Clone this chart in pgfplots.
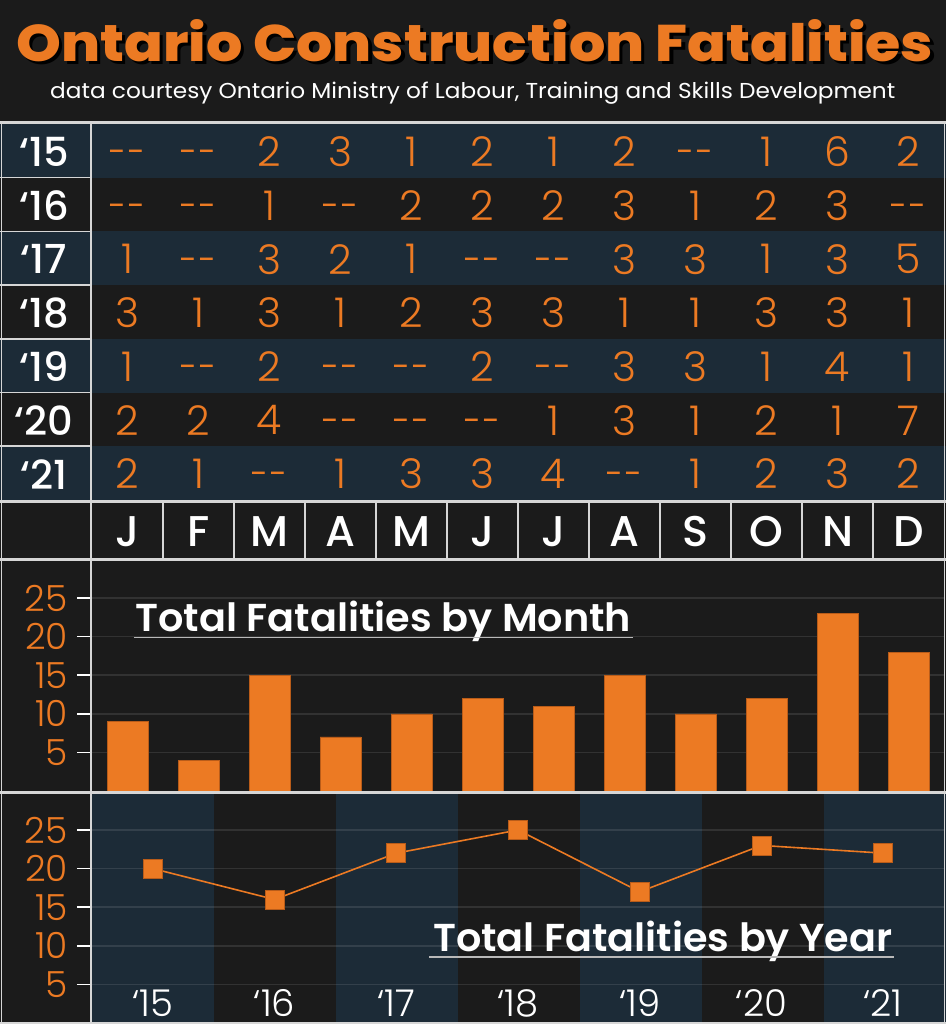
\documentclass[border=0pt]{standalone}
\usepackage{fontspec}
\usepackage{graphicx}
\usepackage{pgfplots}
\pgfplotsset{compat=1.18}
\setmainfont{Poppins}
\IfFontExistsTF{Poppins Light}{\newfontfamily\lightfont{Poppins Light}}{\newfontfamily\lightfont{Poppins}}
\IfFontExistsTF{Poppins Medium}{\newfontfamily\mediumfont{Poppins Medium}}{\newfontfamily\mediumfont{Poppins}}
\IfFontExistsTF{Poppins SemiBold}{\newfontfamily\semifont{Poppins SemiBold}}{\newcommand\semifont{\bfseries}}
\IfFontExistsTF{Poppins ExtraBold}{\newfontfamily\heavyfont{Poppins ExtraBold}}{\newcommand\heavyfont{\bfseries}}

\definecolor{bg}{RGB}{27,27,27}
\definecolor{band}{RGB}{28,43,55}
\definecolor{org}{RGB}{236,122,35}
\definecolor{orgdark}{RGB}{185,92,25}
\definecolor{rule}{RGB}{214,214,214}
\definecolor{uline}{RGB}{185,185,185}

% a month with no fatalities (boxed to digit height so it sits mid-row)
\newcommand\dd{\vphantom{0}\scalebox{0.8}[1]{-}\kern2pt\scalebox{0.8}[1]{-}}

\pgfplotsset{
  panel/.style={anchor=north west, scale only axis, width=852pt,
    /pgf/number format/assume math mode=true},
  countticks/.style={
    ytick={5,10,...,25}, ytick pos=left, tick align=outside, major tick length=15pt,
    ytick style={draw=white, line width=1.5pt},
    yticklabel style={anchor=east, inner sep=0pt, xshift=-9pt, text=org,
      font=\lightfont\fontsize{36}{36}\selectfont},
    axis line style={draw=none}, xtick style={draw=none},
    ymajorgrids, grid style={white, opacity=0.1, line width=1.5pt}},
}

\begin{document}
\begin{tikzpicture}[x=1pt,y=-1pt]
\useasboundingbox (0,0) rectangle (946,1024);
% page background
\fill[bg] (0,0) rectangle (946,1024);

% heading with drop shadow
\node[anchor=base west, inner sep=0pt, text=black] at (19.5,65)
  {\resizebox{917pt}{42pt}{\heavyfont Ontario Construction Fatalities}};
\node[anchor=base west, inner sep=0pt, text=org] at (16,61.7)
  {\resizebox{917pt}{42pt}{\heavyfont Ontario Construction Fatalities}};
\node[anchor=base west, inner sep=0pt, text=white] at (50,99)
  {\resizebox{845pt}{16.5pt}{data courtesy Ontario Ministry of Labour, Training and Skills Development}};

% alternating row stripes of the monthly table
\foreach \i in {0,...,6} {
  \pgfmathsetmacro\ya{124+53.7*\i}
  \pgfmathsetmacro\yb{\ya+53.7}
  \ifodd\i \def\c{bg}\else\def\c{band}\fi
  \fill[\c] (0,\ya) rectangle (946,\yb);
}
% year names in the left column
\foreach \t [count=\i from 0] in {15,...,21}
  \node[text=white, inner sep=0pt, font=\mediumfont\fontsize{40}{40}\selectfont]
    at (44,{124+53.7*\i+28}) {‘\t};

% alternating year bands behind the yearly totals
\foreach \i in {0,2,4,6}
  \fill[band] ({92+122*\i},793) rectangle ({min(92+122*\i+122,946)},1024);

% ---- monthly counts per year ----
\begin{axis}[panel, at={(92pt,-124pt)}, height=375.9pt,
  xmin=-0.5, xmax=11.5, ymin=-0.5, ymax=6.5, y dir=reverse,
  hide axis, clip=false,
  point meta=explicit symbolic, nodes near coords,
  every node near coord/.append style={anchor=center, inner sep=0pt, yshift=-1pt,
    text=org, font=\lightfont\fontsize{41}{41}\selectfont}]
\addplot[draw=none] coordinates {(0,0)[\dd] (1,0)[\dd] (2,0)[2] (3,0)[3] (4,0)[1] (5,0)[2] (6,0)[1] (7,0)[2] (8,0)[\dd] (9,0)[1] (10,0)[6] (11,0)[2]};
\addplot[draw=none] coordinates {(0,1)[\dd] (1,1)[\dd] (2,1)[1] (3,1)[\dd] (4,1)[2] (5,1)[2] (6,1)[2] (7,1)[3] (8,1)[1] (9,1)[2] (10,1)[3] (11,1)[\dd]};
\addplot[draw=none] coordinates {(0,2)[1] (1,2)[\dd] (2,2)[3] (3,2)[2] (4,2)[1] (5,2)[\dd] (6,2)[\dd] (7,2)[3] (8,2)[3] (9,2)[1] (10,2)[3] (11,2)[5]};
\addplot[draw=none] coordinates {(0,3)[3] (1,3)[1] (2,3)[3] (3,3)[1] (4,3)[2] (5,3)[3] (6,3)[3] (7,3)[1] (8,3)[1] (9,3)[3] (10,3)[3] (11,3)[1]};
\addplot[draw=none] coordinates {(0,4)[1] (1,4)[\dd] (2,4)[2] (3,4)[\dd] (4,4)[\dd] (5,4)[2] (6,4)[\dd] (7,4)[3] (8,4)[3] (9,4)[1] (10,4)[4] (11,4)[1]};
\addplot[draw=none] coordinates {(0,5)[2] (1,5)[2] (2,5)[4] (3,5)[\dd] (4,5)[\dd] (5,5)[\dd] (6,5)[1] (7,5)[3] (8,5)[1] (9,5)[2] (10,5)[1] (11,5)[7]};
\addplot[draw=none] coordinates {(0,6)[2] (1,6)[1] (2,6)[\dd] (3,6)[1] (4,6)[3] (5,6)[3] (6,6)[4] (7,6)[\dd] (8,6)[1] (9,6)[2] (10,6)[3] (11,6)[2]};
\end{axis}

% ---- total fatalities by month ----
\begin{axis}[panel, countticks, at={(92pt,-561pt)}, height=230pt,
  xmin=-0.5, xmax=11.5, ymin=0, ymax=29.8,
  ybar, bar width=41pt,
  xtick={0,...,11}, xticklabels={J,F,M,A,M,J,J,A,S,O,N,D},
  xticklabel pos=upper,
  xticklabel style={anchor=center, yshift=14.5pt, text=white, inner sep=0pt,
    font=\mediumfont\fontsize{43}{43}\selectfont}]
\addplot[fill=org, draw=orgdark, line width=0.6pt]
  coordinates {(0,9) (1,4) (2,15) (3,7) (4,10) (5,12) (6,11) (7,15) (8,10) (9,12) (10,23) (11,18)};
\end{axis}

% ---- total fatalities by year ----
\begin{axis}[panel, countticks, at={(92pt,-794pt)}, height=229pt,
  xmin=-0.5, xmax=6.5, ymin=0, ymax=29.66,
  xtick={0,...,6}, xticklabels={‘15,‘16,‘17,‘18,‘19,‘20,‘21},
  xticklabel style={anchor=center, yshift=35pt, text=white, inner sep=0pt,
    font=\lightfont\fontsize{37}{37}\selectfont}]
\addplot[org, line width=1.6pt, mark=square*, mark size=9.5pt,
  mark options={fill=org, draw=orgdark, line width=0.8pt}]
  coordinates {(0,20) (1,16) (2,22) (3,25) (4,17) (5,23) (6,22)};
\end{axis}

% panel headings
\node[anchor=base west, inner sep=0pt, text=white] at (135,631.7)
  {\resizebox{496pt}{30.5pt}{\semifont Total Fatalities by Month}};
\draw[uline, line width=1.5pt] (134,637.5) -- (632.7,637.5);
\node[anchor=base west, inner sep=0pt, text=white] at (433,951.7)
  {\resizebox{459pt}{30.5pt}{\semifont Total Fatalities by Year}};
\draw[uline, line width=1.5pt] (429,957) -- (894,957);

% grid frame
\draw[rule, line width=2.5pt] (0,122.5) -- (946,122.5);
\draw[rule, line width=2pt] (91,122) -- (91,1024);
\foreach \k in {1,...,6}
  \draw[rule, line width=1.5pt] (0,{124+53.7*\k}) -- (91,{124+53.7*\k});
\draw[rule, line width=2.5pt] (0,501.5) -- (946,501.5);
\draw[rule, line width=2.5pt] (0,559.5) -- (946,559.5);
\draw[rule, line width=2.5pt] (0,792.5) -- (946,792.5);
\foreach \k in {1,...,11}
  \draw[rule, line width=1.5pt] ({92+71*\k},501) -- ({92+71*\k},559);
\draw[rule, line width=1.5pt] (1.5,122) -- (1.5,1024);
\draw[rule, line width=1.5pt] (944.5,122) -- (944.5,1024);
\draw[rule, line width=1.5pt] (0,1022.8) -- (946,1022.8);
\end{tikzpicture}
\end{document}
